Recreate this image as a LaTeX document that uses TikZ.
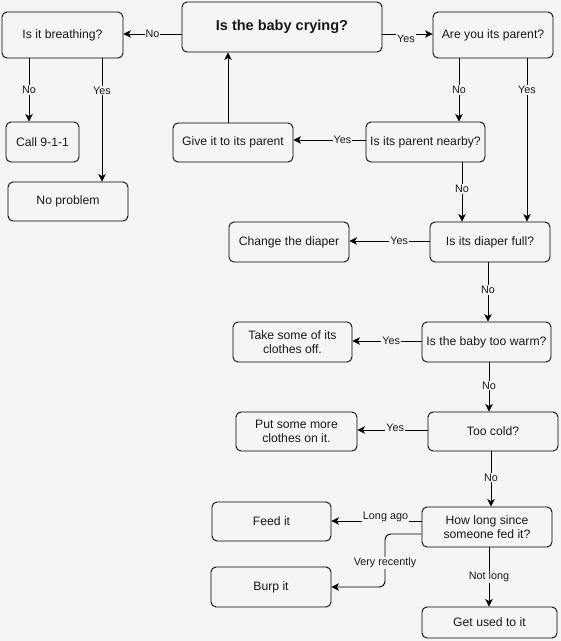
\documentclass[tikz,border=0pt]{standalone}
\usepackage{fontspec}
\setmainfont{Liberation Sans}
\usetikzlibrary{arrows.meta}
\definecolor{bg}{RGB}{245,245,245}
\begin{document}
\begin{tikzpicture}[x=1pt,y=-1pt,
  box/.style={draw=black, line width=0.9pt, rounded corners=5pt, fill=bg, align=center,
    inner sep=2pt, font=\fontsize{12.2}{13.5}\selectfont, text=black!90},
  arr/.style={draw=black, line width=0.9pt, -{Stealth[length=7.5pt,width=7.5pt,inset=2pt]}},
  lbl/.style={fill=bg, inner sep=1pt, font=\fontsize{10.8}{12}\selectfont, text=black!90}]
\useasboundingbox (0,0) rectangle (561,641);
\fill[bg] (0,0) rectangle (561,641);
% boxes
\node[box, minimum width=121pt, minimum height=46pt] (br) at (62.5,35) {Is it breathing?};
\node[box, minimum width=200pt, minimum height=50pt, font=\fontsize{14.5}{16}\selectfont\bfseries] (cry) at (282,27) {Is the baby crying?};
\node[box, minimum width=120pt, minimum height=46pt] (par) at (493,35) {Are you its parent?};
\node[box, minimum width=73pt, minimum height=40pt] (call) at (42.5,142) {Call 9-1-1};
\node[box, minimum width=120pt, minimum height=39pt] (nop) at (68,201.5) {No problem};
\node[box, minimum width=120pt, minimum height=39pt] (give) at (233,142.5) {Give it to its parent};
\node[box, minimum width=119pt, minimum height=40pt] (near) at (425.5,142) {Is its parent nearby?};
\node[box, minimum width=120pt, minimum height=40pt] (chg) at (289,242) {Change the diaper};
\node[box, minimum width=120pt, minimum height=40pt] (full) at (490,242) {Is its diaper full?};
\node[box, minimum width=119pt, minimum height=40pt] (take) at (292.5,342) {Take some of its\\ clothes off.};
\node[box, minimum width=129pt, minimum height=40pt] (warm) at (486.5,342) {Is the baby too warm?};
\node[box, minimum width=121pt, minimum height=39pt] (put) at (296.5,431.5) {Put some more\\ clothes on it.};
\node[box, minimum width=130pt, minimum height=39pt] (cold) at (493,431.5) {Too cold?};
\node[box, minimum width=130pt, minimum height=40pt] (how) at (487,527) {How long since\\someone fed it?};
\node[box, minimum width=119pt, minimum height=39pt] (feed) at (271.5,521.5) {Feed it};
\node[box, minimum width=120pt, minimum height=40pt] (burp) at (271,587) {Burp it};
\node[box, minimum width=135pt, minimum height=31pt] (used) at (489.5,622.5) {Get used to it};
% connector start points
\coordinate (c1) at ([yshift=-7pt]cry.west);
\coordinate (c2) at ([yshift=-7pt]cry.east);
\coordinate (b1) at ([xshift=-33.5pt]br.south);
\coordinate (b2) at ([xshift=39.5pt]br.south);
\coordinate (g1) at ([xshift=-5pt]give.north);
\coordinate (p1) at ([xshift=-34pt]par.south);
\coordinate (p2) at ([xshift=34pt]par.south);
\coordinate (n1) at ([yshift=2pt]near.west);
\coordinate (n2) at ([xshift=36.5pt]near.south);
\coordinate (f1) at ([yshift=1pt]full.west);
\coordinate (f2) at ([xshift=-2pt]full.south);
\coordinate (w1) at ([yshift=1pt]warm.west);
\coordinate (w2) at ([xshift=2.5pt]warm.south);
\coordinate (k1) at ([yshift=1.5pt]cold.west);
\coordinate (k2) at ([xshift=-2pt]cold.south);
\coordinate (h1) at ([yshift=6pt]how.west);
\coordinate (h2) at ([yshift=-7pt]how.west);
\coordinate (h3) at ([xshift=2pt]how.south);
\coordinate (vr) at (385,563);
% connectors
\draw[arr] (c1) -- node[lbl, pos=0.5] {No} (c1 -| br.east);
\draw[arr] (c2) -- node[lbl, pos=0.47, yshift=-4.5pt] {Yes} (c2 -| par.west);
\draw[arr] (b1) -- node[lbl, pos=0.5] {No} (b1 |- call.north);
\draw[arr] (b2) -- node[lbl, pos=0.26] {Yes} (b2 |- nop.north);
\draw[arr] (g1) -- (g1 |- cry.south);
\draw[arr] (p1) -- node[lbl, pos=0.5] {No} (p1 |- near.north);
\draw[arr] (p2) -- node[lbl, pos=0.195] {Yes} (p2 |- full.north);
\draw[arr] (n1) -- node[lbl, pos=0.32] {Yes} (n1 -| give.east);
\draw[arr] (n2) -- node[lbl, pos=0.45] {No} (n2 |- full.north);
\draw[arr] (f1) -- node[lbl, pos=0.38] {Yes} (f1 -| chg.east);
\draw[arr] (f2) -- node[lbl, pos=0.47] {No} (f2 |- warm.north);
\draw[arr] (w1) -- node[lbl, pos=0.44] {Yes} (w1 -| take.east);
\draw[arr] (w2) -- node[lbl, pos=0.47] {No} (w2 |- cold.north);
\draw[arr] (k1) -- node[lbl, pos=0.46, yshift=2pt] {Yes} (k1 -| put.east);
\draw[arr] (k2) -- node[lbl, pos=0.47] {No} (k2 |- how.north);
\draw[arr] (h1) -- node[lbl, pos=0.4, yshift=4pt] {Long ago} (h1 -| feed.east);
\draw[arr, rounded corners=6pt] (h2) -| (vr) |- (burp.east);
\node[lbl] at (vr) {Very recently};
\draw[arr] (h3) -- node[lbl, pos=0.5] {Not long} (h3 |- used.north);
\end{tikzpicture}
\end{document}
